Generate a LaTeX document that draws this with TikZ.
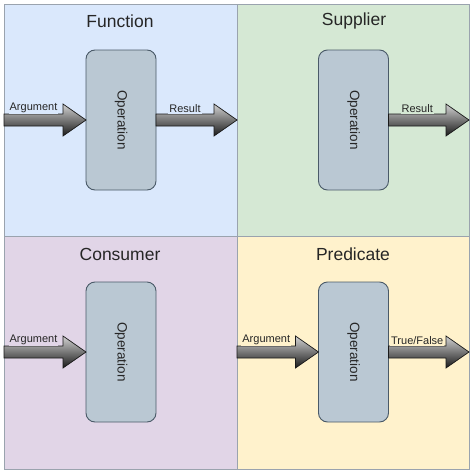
\documentclass[tikz,border=0pt]{standalone}
\usepackage{fontspec}
\setmainfont{Liberation Sans}
\usetikzlibrary{calc}
\definecolor{pblue}{HTML}{DAE8FC}
\definecolor{pgreen}{HTML}{D5E8D4}
\definecolor{ppurple}{HTML}{E1D5E7}
\definecolor{pyellow}{HTML}{FFF2CC}
\definecolor{pline}{HTML}{9AA3AE}
\definecolor{opfill}{HTML}{BAC8D3}
\definecolor{opline}{HTML}{4A5A68}
\tikzset{
  panel/.style={draw=pline, line width=0.9pt, minimum width=#1, inner sep=0pt, outer sep=0pt},
  title/.style={font=\fontsize{17.5}{20}\selectfont, text=black!85},
  op/.style={draw=opline, fill=opfill, rounded corners=9pt, minimum width=70pt, minimum height=140pt, line width=0.9pt, inner sep=0pt, outer sep=0pt},
  optext/.style={rotate=-90, font=\fontsize{13.5}{16}\selectfont, text=black!85},
  fat/.style={draw=black!90, line width=0.7pt, top color=gray!35, bottom color=black!90},
  lbl/.style={font=\fontsize{11}{13}\selectfont, inner sep=1pt, anchor=south, text=black!85},
}
\newcommand\fatarrow[4]{%
  \path[fat] let \p1=(#1), \p2=(#2) in
    (\x1,\y1+6pt) -- (\x2-23pt,\y1+6pt) -- (\x2-23pt,\y1+16pt) -- (\x2,\y1)
    -- (\x2-23pt,\y1-16pt) -- (\x2-23pt,\y1-6pt) -- (\x1,\y1-6pt) -- cycle;
  \node[lbl, fill=#4] at ($(#1)!0.5!(#2)+(-11.5pt,6pt)$) {#3};}
\begin{document}
\begin{tikzpicture}[x=1pt, y=-1pt]
\useasboundingbox (0,0) rectangle (474,474);
% panels
\node[panel=233pt, minimum height=232pt, fill=pblue]   (p1) at (120.5,120) {};
\node[panel=232pt, minimum height=232pt, fill=pgreen]  (p2) at (353,120) {};
\node[panel=233pt, minimum height=233pt, fill=ppurple] (p3) at (120.5,352.5) {};
\node[panel=232pt, minimum height=233pt, fill=pyellow] (p4) at (353,352.5) {};
% titles
\node[title] (t1) at (120,21) {Function};
\node[title] (t2) at (354,21) {Supplier};
\node[title] (t3) at (120,254) {Consumer};
\node[title] (t4) at (353,254) {Predicate};
% operations
\node[op] (op1) at (121,120) {};
\node[op] (op2) at (353.5,120) {};
\node[op] (op3) at (121,352) {};
\node[op] (op4) at (353.5,352) {};
\node[optext] (o1) at (op1) {Operation};
\node[optext] (o2) at (op2) {Operation};
\node[optext] (o3) at (op3) {Operation};
\node[optext] (o4) at (op4) {Operation};
% arrow ends
\coordinate (a1) at (p1.west |- op1);
\coordinate (r1) at (p1.east |- op1);
\coordinate (r2) at (p2.east |- op2);
\coordinate (a3) at (p3.west |- op3);
\coordinate (a4) at (p4.west |- op4);
\coordinate (r4) at (p4.east |- op4);
% arrows
\fatarrow{a1}{op1.west}{Argument}{pblue}
\fatarrow{op1.east}{r1}{Result}{pblue}
\fatarrow{op2.east}{r2}{Result}{pgreen}
\fatarrow{a3}{op3.west}{Argument}{ppurple}
\fatarrow{a4}{op4.west}{Argument}{pyellow}
\fatarrow{op4.east}{r4}{True/False}{pyellow}
\end{tikzpicture}
\end{document}
